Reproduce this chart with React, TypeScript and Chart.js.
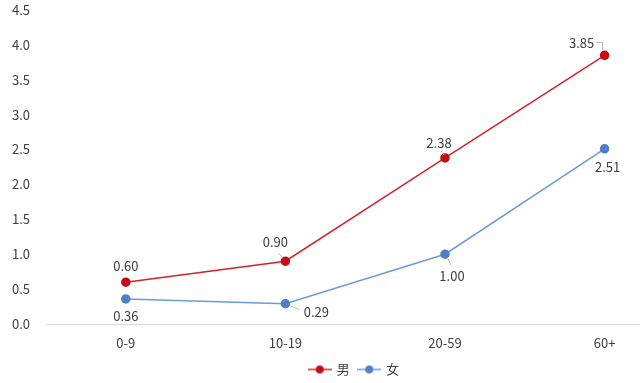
import React, { useEffect, useRef } from "react";
import { Chart, registerables } from "chart.js";

Chart.register(...registerables);

// ---- data ----
const categories = ["0-9", "10-19", "20-59", "60+"];
const maleValues = [0.6, 0.9, 2.38, 3.85];
const femaleValues = [0.36, 0.29, 1.0, 2.51];
const seriesNames = ["男", "女"];
const yMin = 0;
const yMax = 4.5;
const yStep = 0.5;

// ---- styles ----
const FONT = "'Noto Sans CJK SC', 'Noto Sans', sans-serif";
const FONT_SIZE = 13;
const TEXT = "#404040";
const RED_LINE = "#d4232b";
const RED_POINT = "#c40d16";
const BLUE_LINE = "#6b9bd8";
const BLUE_POINT = "#4d80c6";
const LEADER = "#b8b8b8";

// label placement (offsets from point, in px) and optional leader line polylines
const labelStyle: Array<Array<{ dx: number; dy: number; leader?: number[][] }>> = [
  [
    { dx: 0, dy: -16 },
    { dx: -10, dy: -19, leader: [[-7, -8], [-2, -3]] },
    { dx: -6, dy: -15, leader: [[-4, -7], [-1, -3]] },
    { dx: -23, dy: -12, leader: [[-8, -13], [-2, -13], [-2, -6]] },
  ],
  [
    { dx: 0, dy: 17 },
    { dx: 31, dy: 8, leader: [[5, 2], [14, 6]] },
    { dx: 7, dy: 22, leader: [[3, 4], [6, 11]] },
    { dx: 3, dy: 18 },
  ],
];

function makeMarker(lineColor: string, pointColor: string): HTMLCanvasElement {
  const c = document.createElement("canvas");
  c.width = 24;
  c.height = 10;
  const ctx = c.getContext("2d")!;
  ctx.strokeStyle = lineColor;
  ctx.lineWidth = 1.5;
  ctx.beginPath();
  ctx.moveTo(0, 5);
  ctx.lineTo(24, 5);
  ctx.stroke();
  ctx.fillStyle = pointColor;
  ctx.beginPath();
  ctx.arc(12, 5, 4, 0, Math.PI * 2);
  ctx.fill();
  return c;
}

const labelPlugin = {
  id: "valueLabels",
  afterDatasetsDraw(chart: any) {
    const ctx = chart.ctx;
    ctx.save();
    ctx.font = `${FONT_SIZE}px ${FONT}`;
    ctx.fillStyle = TEXT;
    ctx.textAlign = "center";
    ctx.textBaseline = "middle";
    chart.data.datasets.forEach((ds: any, di: number) => {
      const meta = chart.getDatasetMeta(di);
      meta.data.forEach((pt: any, i: number) => {
        const st = labelStyle[di][i];
        const v = ds.data[i] as number;
        if (st.leader) {
          ctx.strokeStyle = LEADER;
          ctx.lineWidth = 1;
          ctx.beginPath();
          st.leader.forEach((p, k) => {
            if (k === 0) ctx.moveTo(pt.x + p[0], pt.y + p[1]);
            else ctx.lineTo(pt.x + p[0], pt.y + p[1]);
          });
          ctx.stroke();
        }
        ctx.fillText(v.toFixed(2), pt.x + st.dx, pt.y + st.dy);
      });
    });
    ctx.restore();
  },
};

export default function App() {
  const ref = useRef<HTMLCanvasElement | null>(null);

  useEffect(() => {
    if (!ref.current) return;
    const chart = new Chart(ref.current, {
      type: "line",
      data: {
        labels: categories,
        datasets: [
          {
            label: seriesNames[0],
            data: maleValues,
            borderColor: RED_LINE,
            backgroundColor: RED_POINT,
            pointBackgroundColor: RED_POINT,
            pointBorderColor: RED_POINT,
            pointRadius: 4,
            borderWidth: 1.5,
            pointStyle: "circle",
          },
          {
            label: seriesNames[1],
            data: femaleValues,
            borderColor: BLUE_LINE,
            backgroundColor: BLUE_POINT,
            pointBackgroundColor: BLUE_POINT,
            pointBorderColor: BLUE_POINT,
            pointRadius: 4,
            borderWidth: 1.5,
            pointStyle: "circle",
          },
        ],
      },
      options: {
        responsive: false,
        animation: false,
        layout: { padding: { top: 10, right: 15.6, left: 24, bottom: 0 } },
        plugins: {
          tooltip: { enabled: false },
          legend: {
            position: "bottom",
            labels: {
              usePointStyle: true,
              pointStyleWidth: 21,
              boxHeight: 10,
              padding: 9,
              color: TEXT,
              font: { family: FONT, size: FONT_SIZE },
              generateLabels: (ch: any) =>
                ch.data.datasets.map((ds: any, i: number) => ({
                  text: ds.label,
                  pointStyle: makeMarker(ds.borderColor, ds.pointBackgroundColor),
                  fillStyle: ds.pointBackgroundColor,
                  strokeStyle: ds.borderColor,
                  lineWidth: 0,
                  fontColor: TEXT,
                  datasetIndex: i,
                  hidden: false,
                })),
            },
          },
        },
        scales: {
          x: {
            type: "category",
            offset: true,
            grid: { display: false, drawTicks: false },
            border: { display: true, color: "#d9d9d9", width: 1 },
            ticks: {
              color: TEXT,
              padding: 11,
              font: { family: FONT, size: FONT_SIZE },
              maxRotation: 0,
            },
            afterFit: (s: any) => {
              s.height = 30;
              s.paddingLeft = 0;
              s.paddingRight = 0;
            },
          },
          y: {
            min: yMin,
            max: yMax,
            grid: { display: false, drawTicks: false },
            border: { display: false },
            ticks: {
              stepSize: yStep,
              color: TEXT,
              mirror: true,
              padding: -34,
              font: { family: FONT, size: FONT_SIZE },
              callback: (v: any) => Number(v).toFixed(1),
            },
            afterFit: (s: any) => {
              s.width = 22;
              s.paddingTop = 0;
              s.paddingBottom = 0;
            },
          },
        },
      },
      plugins: [labelPlugin],
    });
    return () => chart.destroy();
  }, []);

  return (
    <div
      style={{
        position: "fixed",
        left: 0,
        top: 0,
        width: 640,
        height: 383,
        overflow: "hidden",
        background: "#ffffff",
      }}
    >
      <canvas ref={ref} width={700} height={386} style={{ display: "block" }} />
    </div>
  );
}
